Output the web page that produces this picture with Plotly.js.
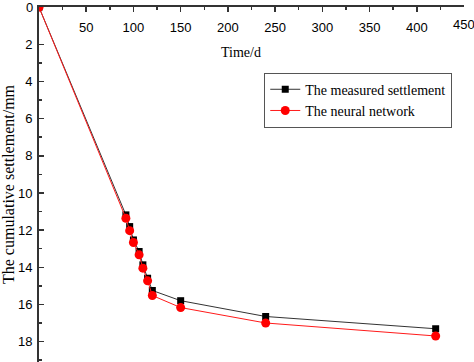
<!DOCTYPE html>
<html><head><meta charset="utf-8">
<script src="https://cdn.plot.ly/plotly-3.0.1.min.js"></script>
<style>body{margin:0;background:#fff}#c{width:474px;height:362px}</style>
</head><body><div id="c"></div>
<script>
const days = [0, 92, 96, 100, 106, 110, 115, 120, 150, 240, 420];
const measured = [0, 11.18, 11.81, 12.53, 13.15, 13.87, 14.59, 15.25, 15.8, 16.65, 17.31];
const network = [0, 11.36, 12.03, 12.67, 13.33, 14.05, 14.73, 15.52, 16.17, 17.0, 17.7];
const xTicks = [50, 100, 150, 200, 250, 300, 350, 400, 450];
const yTicks = [0, 2, 4, 6, 8, 10, 12, 14, 16, 18];

const traces = [
  {x: days, y: measured, name: 'The measured settlement', mode: 'lines+markers',
   line: {color: '#333', width: 1}, marker: {symbol: 'square', size: 7, color: '#000'}},
  {x: days, y: network, name: 'The neural network', mode: 'lines+markers',
   line: {color: '#ff1a1a', width: 1}, marker: {symbol: 'circle', size: 9, color: '#ff0000'}}
];
const tickFont = {family: 'Liberation Sans', size: 13, color: '#000'};
const layout = {
  width: 474, height: 362,
  margin: {l: 39, r: 10, t: 7, b: 0},
  paper_bgcolor: '#fff', plot_bgcolor: '#fff',
  showlegend: true,
  legend: {x: 0.53, y: 0.815, xanchor: 'left', yanchor: 'top',
    bordercolor: '#555', borderwidth: 1, bgcolor: '#fff',
    font: {family: 'Liberation Serif', size: 14, color: '#000'},
    tracegroupgap: 0, itemwidth: 30},
  annotations: [
    {text: 'Time/d', xref: 'paper', yref: 'paper', x: 0.475, y: 0.873,
     showarrow: false, xanchor: 'center', yanchor: 'middle',
     font: {family: 'Liberation Serif', size: 14, color: '#000'}},
    {text: String(xTicks[xTicks.length - 1]), xref: 'x', yref: 'paper', x: xTicks[xTicks.length - 1], y: 0.95,
     showarrow: false, xanchor: 'center', yanchor: 'middle', font: tickFont},
    {text: String(yTicks[0]), xref: 'paper', yref: 'y', x: 0, y: yTicks[0], xshift: -4,
     showarrow: false, xanchor: 'right', yanchor: 'middle', font: tickFont}
  ],
  xaxis: {side: 'top', range: [0, 450], tickvals: xTicks,
    ticks: 'inside', ticklen: 5, tickwidth: 1.5, tickcolor: '#333',
    ticklabelposition: 'inside', ticklabelstandoff: 11,
    minor: {ticks: 'inside', dtick: 25, ticklen: 3, tickcolor: '#333'},
    showline: true, linecolor: '#333', linewidth: 2, showgrid: false, zeroline: false,
    tickfont: tickFont
  },
  yaxis: {range: [19.1, -0.01], tickvals: yTicks,
    ticks: 'inside', ticklen: 5, tickwidth: 1.5, tickcolor: '#333',
    ticklabelstandoff: 2,
    minor: {ticks: 'inside', dtick: 1, ticklen: 3, tickcolor: '#333'},
    showline: true, linecolor: '#333', linewidth: 2, showgrid: false, zeroline: false,
    tickfont: tickFont,
    title: {text: 'The cumulative settlement/mm', standoff: 2,
      font: {family: 'Liberation Serif', size: 16, color: '#000'}}
  }
};
Plotly.newPlot('c', traces, layout, {displayModeBar: false, staticPlot: true});
</script></body></html>
